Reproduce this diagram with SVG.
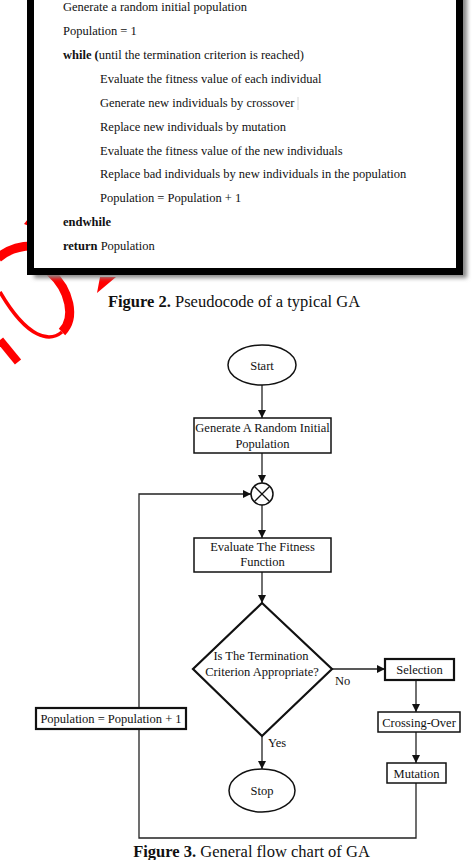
<svg xmlns="http://www.w3.org/2000/svg" width="474" height="860" viewBox="0 0 474 860">
<style>
  text { font-family: "Liberation Serif", "Times New Roman", serif; fill: #111; }
  .code { font-size: 12.5px; }
  .b { font-weight: bold; }
  .cap { font-size: 16.5px; }
  .lbl { font-size: 12.5px; text-anchor: middle; }
  .shape { fill: #fff; stroke: #111; stroke-width: 1.5; }
  .thick { stroke-width: 2.2; }
  .conn { fill: none; stroke: #222; stroke-width: 1.3; }
  .wm { fill: none; stroke: #ff0000; stroke-linecap: butt; }
</style>
<defs>
  <marker id="arr" viewBox="0 0 10 10" refX="10" refY="5" markerUnits="userSpaceOnUse" markerWidth="9" markerHeight="8" orient="auto">
    <path d="M0,0 L10,5 L0,10 z" fill="#111"/>
  </marker>
  <filter id="shadow" x="-10%" y="-10%" width="120%" height="130%">
    <feGaussianBlur stdDeviation="2"/>
  </filter>
</defs>
<rect width="474" height="860" fill="#fff"/>

<!-- red watermark fragments -->
<g id="watermark">
  <path class="wm" d="M -2 258 Q 12 246 32 246" stroke-width="9"/>
  <path class="wm" d="M 50 272 C 70 290 76 318 62 332" stroke-width="9"/>
  <path class="wm" d="M 62 332 C 50 342 28 340 0 292" stroke-width="3.5"/>
  <path class="wm" d="M 0 340 L 18 362" stroke-width="8"/>
  <polygon points="97,293 100,277 116,277" fill="#ff0000"/>
  <polygon points="24,224 28,219 29,226" fill="#ff0000"/>
</g>

<!-- pseudocode panel -->
<g id="pseudocode">
  <rect x="34" y="-10" width="433" height="288" fill="#888" filter="url(#shadow)"/>
  <rect x="30.5" y="-10" width="429" height="281.5" fill="#fff" stroke="#000" stroke-width="7"/>
  <text class="code" x="63" y="11">Generate a random initial population</text>
  <text class="code" x="63" y="35">Population = 1</text>
  <text class="code" x="63" y="59"><tspan class="b">while (</tspan>until the termination criterion is reached)</text>
  <text class="code" x="100" y="83">Evaluate the fitness value of each individual</text>
  <text class="code" x="100" y="107">Generate new individuals by crossover</text>
  <line x1="298" y1="97" x2="298" y2="110" stroke="#ccc" stroke-width="0.8"/>
  <text class="code" x="100" y="131">Replace new individuals by mutation</text>
  <text class="code" x="100" y="155">Evaluate the fitness value of the new individuals</text>
  <text class="code" x="100" y="178">Replace bad individuals by new individuals in the population</text>
  <text class="code" x="100" y="202">Population = Population + 1</text>
  <text class="code b" x="63" y="226">endwhile</text>
  <text class="code" x="63" y="250"><tspan class="b">return</tspan> Population</text>
</g>
<text class="cap" x="234" y="307" text-anchor="middle"><tspan class="b">Figure 2.</tspan> Pseudocode of a typical GA</text>

<!-- connectors -->
<g id="connectors">
  <line class="conn" x1="262" y1="385" x2="262" y2="418" marker-end="url(#arr)"/>
  <line class="conn" x1="262" y1="453" x2="262" y2="483" marker-end="url(#arr)"/>
  <line class="conn" x1="262" y1="505" x2="262" y2="538" marker-end="url(#arr)"/>
  <line class="conn" x1="262" y1="572" x2="262" y2="603" marker-end="url(#arr)"/>
  <line class="conn" x1="332" y1="669" x2="385" y2="669" marker-end="url(#arr)"/>
  <line class="conn" x1="416" y1="680" x2="416" y2="712" marker-end="url(#arr)"/>
  <line class="conn" x1="416" y1="732" x2="416" y2="763" marker-end="url(#arr)"/>
  <line class="conn" x1="262" y1="736" x2="262" y2="769" marker-end="url(#arr)"/>
  <polyline class="conn" points="416,783 416,838 139,838 139,729"/>
  <polyline class="conn" points="139,708 139,494 251,494" marker-end="url(#arr)"/>
  <text x="335" y="685" style="font-size:12.5px">No</text>
  <text x="268" y="747" style="font-size:12.5px">Yes</text>
</g>

<g id="start">
  <ellipse class="shape" cx="262" cy="365" rx="34" ry="20"/>
  <text class="lbl" x="262" y="369.5">Start</text>
</g>
<g id="init">
  <rect class="shape" x="194" y="418" width="137" height="35"/>
  <text class="lbl" x="262.5" y="432">Generate A Random Initial</text>
  <text class="lbl" x="262.5" y="448">Population</text>
</g>
<g id="merge">
  <circle class="shape" cx="262" cy="494" r="11"/>
  <line x1="254.2" y1="486.2" x2="269.8" y2="501.8" stroke="#111" stroke-width="1.3"/>
  <line x1="269.8" y1="486.2" x2="254.2" y2="501.8" stroke="#111" stroke-width="1.3"/>
</g>
<g id="evaluate">
  <rect class="shape" x="194" y="538" width="137" height="34"/>
  <text class="lbl" x="262.5" y="551">Evaluate The Fitness</text>
  <text class="lbl" x="262.5" y="566">Function</text>
</g>
<g id="decision">
  <polygon class="shape thick" points="262,603 332,669 262,736 193,669"/>
  <text class="lbl" x="261" y="660">Is The Termination</text>
  <text class="lbl" x="262" y="676">Criterion Appropriate?</text>
</g>
<g id="selection">
  <rect class="shape thick" x="385" y="659" width="69" height="21"/>
  <text class="lbl" x="419.5" y="674">Selection</text>
</g>
<g id="crossover">
  <rect class="shape" x="378" y="712" width="82" height="20"/>
  <text class="lbl" x="419" y="726.5">Crossing-Over</text>
</g>
<g id="mutation">
  <rect class="shape" x="387" y="763" width="59" height="20"/>
  <text class="lbl" x="416.5" y="777.5">Mutation</text>
</g>
<g id="population">
  <rect class="shape thick" x="36" y="708" width="150" height="21"/>
  <text class="lbl" x="111" y="722.5">Population = Population + 1</text>
</g>
<g id="stop">
  <ellipse class="shape" cx="262" cy="790.5" rx="33" ry="21.5"/>
  <text class="lbl" x="262" y="794.5">Stop</text>
</g>
<text class="cap" x="251.5" y="857" text-anchor="middle"><tspan class="b">Figure 3.</tspan> General flow chart of GA</text>
</svg>
